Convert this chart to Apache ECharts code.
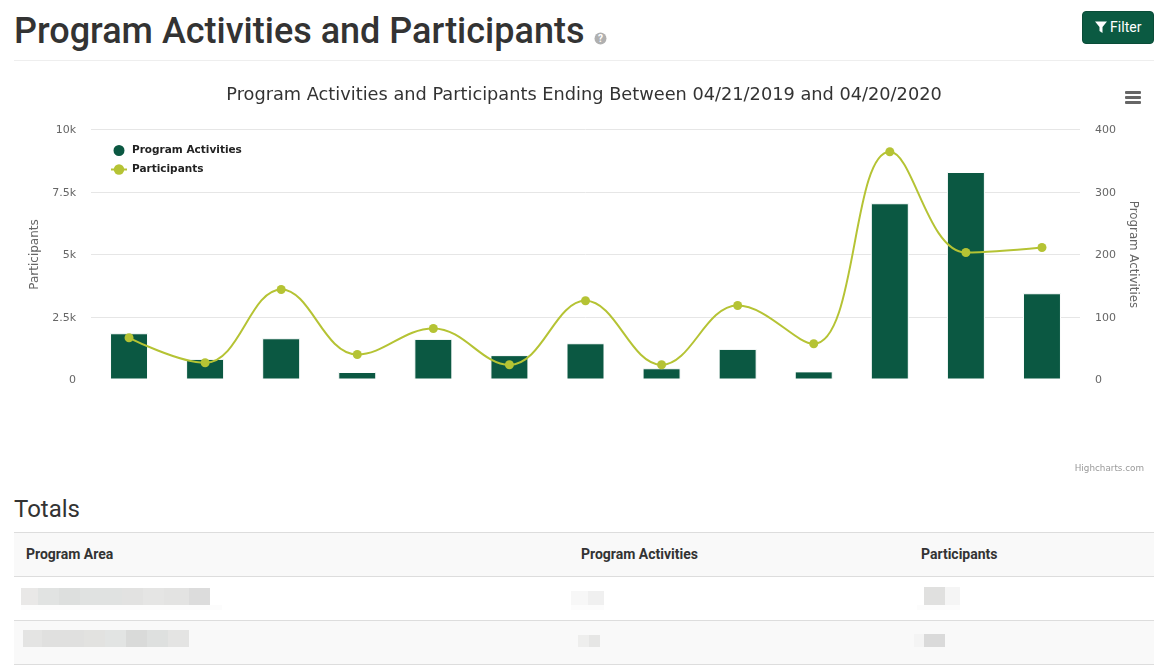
<!DOCTYPE html>
<html><head><meta charset="utf-8">
<style>
html,body{margin:0;padding:0;background:#fff;overflow:hidden;width:1168px;height:668px;font-family:Roboto,sans-serif;color:#333}
.abs{position:absolute}
#chart{position:absolute;left:0;top:0;width:1168px;height:668px}
h1{position:absolute;left:14px;top:9px;margin:0;font:500 36px/44px Roboto;color:#333;white-space:nowrap}
h2{position:absolute;left:14px;top:494px;margin:0;font:400 24px/30px Roboto;color:#333}
.th{position:absolute;top:546px;font:700 14px/17px Roboto;color:#333;white-space:nowrap}
.btn{position:absolute;left:1082px;top:11px;width:72px;height:33px;background:#0b5a42;border-radius:4px;border:1px solid #0a4c38;box-sizing:border-box;color:#fff;font:400 14px/30px Roboto;text-align:center}
.bar{position:absolute;left:1125px;width:16px;height:3px;background:#666;border-radius:1px}
</style></head><body>
<div class="abs" style="left:14px;top:60px;width:1140px;height:1px;background:#eee"></div>
<h1>Program Activities and Participants</h1>
<svg class="abs" style="left:594px;top:32px" width="13" height="13" viewBox="0 0 13 13"><circle cx="6.5" cy="6.5" r="6" fill="#b0b0b0"/><text x="6.5" y="10" text-anchor="middle" font-family="Roboto" font-weight="700" font-size="10" fill="#fff">?</text></svg>
<div class="btn"><svg width="12" height="12" viewBox="0 0 12 12" style="vertical-align:-1px"><path d="M0 0.5H12L7.5 6V12L4.5 10V6Z" fill="#fff"/></svg> Filter</div>
<div class="abs" style="left:14px;top:532px;width:1140px;height:44px;background:#f9f9f9"></div>
<div class="abs" style="left:14px;top:620px;width:1140px;height:44px;background:#f9f9f9"></div>
<div class="abs" style="left:14px;top:532px;width:1140px;height:1px;background:#ddd"></div>
<div class="abs" style="left:14px;top:576px;width:1140px;height:1px;background:#ddd"></div>
<div class="abs" style="left:14px;top:620px;width:1140px;height:1px;background:#ddd"></div>
<div class="abs" style="left:14px;top:664px;width:1140px;height:1px;background:#ddd"></div>
<h2>Totals</h2>
<div class="th" style="left:26px">Program Area</div>
<div class="th" style="left:581px">Program Activities</div>
<div class="th" style="left:921px">Participants</div>
<div id="chart"></div>
<div class="bar" style="top:91px"></div><div class="bar" style="top:96px"></div><div class="bar" style="top:101px"></div>
<div id="blur"></div>
<script src="https://cdn.jsdelivr.net/npm/echarts@6/dist/echarts.min.js"></script>
<script>
const titleText = 'Program Activities and Participants Ending Between 04/21/2019 and 04/20/2020';
const categories = ['', '', '', '', '', '', '', '', '', '', '', '', ''];
const programActivities = [74, 33, 66, 12, 65, 39, 58, 18, 49, 13, 282, 332, 138];
const participants = [1668, 668, 3600, 1000, 2040, 588, 3148, 588, 2960, 1428, 9108, 5080, 5280];
const leftTicks = {0: '0', 2500: '2.5k', 5000: '5k', 7500: '7.5k', 10000: '10k'};

// Obscured table cells: [x, y, w, h, colour]
const cells = [
 [21,588,17,17,'#e9e8e7'],[38,588,21,17,'#e1e3e2'],[59,588,21,17,'#dddfde'],[80,588,42,17,'#e0e2e1'],[122,588,21,17,'#e2e2e1'],[143,588,21,17,'#e5e5e4'],[164,588,25,17,'#e3e3e2'],[189,588,21,17,'#dcdcdc'],[21,605,201,5,'#fcfcfc'],
 [23,630,19,17,'#e4e4e3'],[42,630,42,17,'#e0e0df'],[84,630,21,17,'#e2e2e0'],[105,630,21,17,'#e2e4e3'],[126,630,21,17,'#d9dad9'],[147,630,21,17,'#dee0df'],[168,630,21,17,'#e4e4e3'],
 [571,591,17,14,'#f7f7f7'],[588,591,16,14,'#f0f0f0'],[571,605,33,5,'#fcfcfc'],
 [578,635,11,12,'#eeeeed'],[589,635,11,12,'#e6e6e5'],
 [924,587,21,18,'#e0e0df'],[945,587,15,18,'#f5f5f5'],[917,605,43,5,'#fcfcfc'],
 [914,634,10,13,'#f4f4f4'],[924,634,21,13,'#dadada']
];
document.getElementById('blur').innerHTML = cells.map(c =>
  `<div class="abs" style="left:${c[0]}px;top:${c[1]}px;width:${c[2]}px;height:${c[3]}px;background:${c[4]}"></div>`).join('');

const chart = echarts.init(document.getElementById('chart'), null, {renderer:'canvas'});
const FONT = '"DejaVu Sans"';
chart.setOption({
  animation:false,
  textStyle:{fontFamily:FONT},
  title:{text:titleText,left:'center',top:81,textStyle:{fontFamily:FONT,fontSize:17.75,fontWeight:'normal',color:'#333'}},
  legend:{orient:'vertical',left:105,top:138,itemWidth:16,itemHeight:13,itemGap:6,
    textStyle:{fontFamily:FONT,fontSize:10.5,fontWeight:'bold',color:'#222'},
    data:[{name:'Program Activities',icon:'circle'},{name:'Participants'}]},
  grid:{left:91,right:88,top:129.5,height:250,containLabel:false},
  xAxis:{type:'category',data:categories,axisLine:{show:false},axisTick:{show:false},axisLabel:{show:false},splitLine:{show:false}},
  yAxis:[
   {type:'value',min:0,max:10000,interval:2500,name:'Participants',nameLocation:'middle',nameGap:45,nameRotate:90,
    nameTextStyle:{fontFamily:FONT,fontSize:12,color:'#666'},
    axisLabel:{formatter:v=>leftTicks[v],fontFamily:FONT,fontSize:11,color:'#666',margin:15,verticalAlign:'top',lineHeight:11,padding:[-4.5,0,0,0]},
    axisLine:{show:false},axisTick:{show:false},splitLine:{show:true,showMinLine:false,lineStyle:{color:'#e6e6e6',width:1}}},
   {type:'value',min:0,max:400,interval:100,name:'Program Activities',nameLocation:'middle',nameGap:38,nameRotate:-90,
    nameTextStyle:{fontFamily:FONT,fontSize:11.8,color:'#666'},
    axisLabel:{fontFamily:FONT,fontSize:11,color:'#666',margin:15,verticalAlign:'top',lineHeight:11,padding:[-4.5,0,0,0]},
    axisLine:{show:false},axisTick:{show:false},splitLine:{show:false}}
  ],
  series:[
   {name:'Program Activities',type:'bar',yAxisIndex:1,data:programActivities,barWidth:38,
    itemStyle:{color:'#0b5842',borderColor:'#fff',borderWidth:1},emphasis:{disabled:true}},
   {name:'Participants',type:'line',yAxisIndex:0,data:participants,smooth:0.4,symbol:'circle',symbolSize:9,showSymbol:true,z:5,
    lineStyle:{color:'#b5c334',width:2},itemStyle:{color:'#b5c334'},emphasis:{disabled:true}}
  ],
  graphic:[{type:'text',right:24,top:464,style:{text:'Highcharts.com',fontFamily:FONT,fontSize:8.8,fill:'#999'}}]
});
</script>
</body></html>
